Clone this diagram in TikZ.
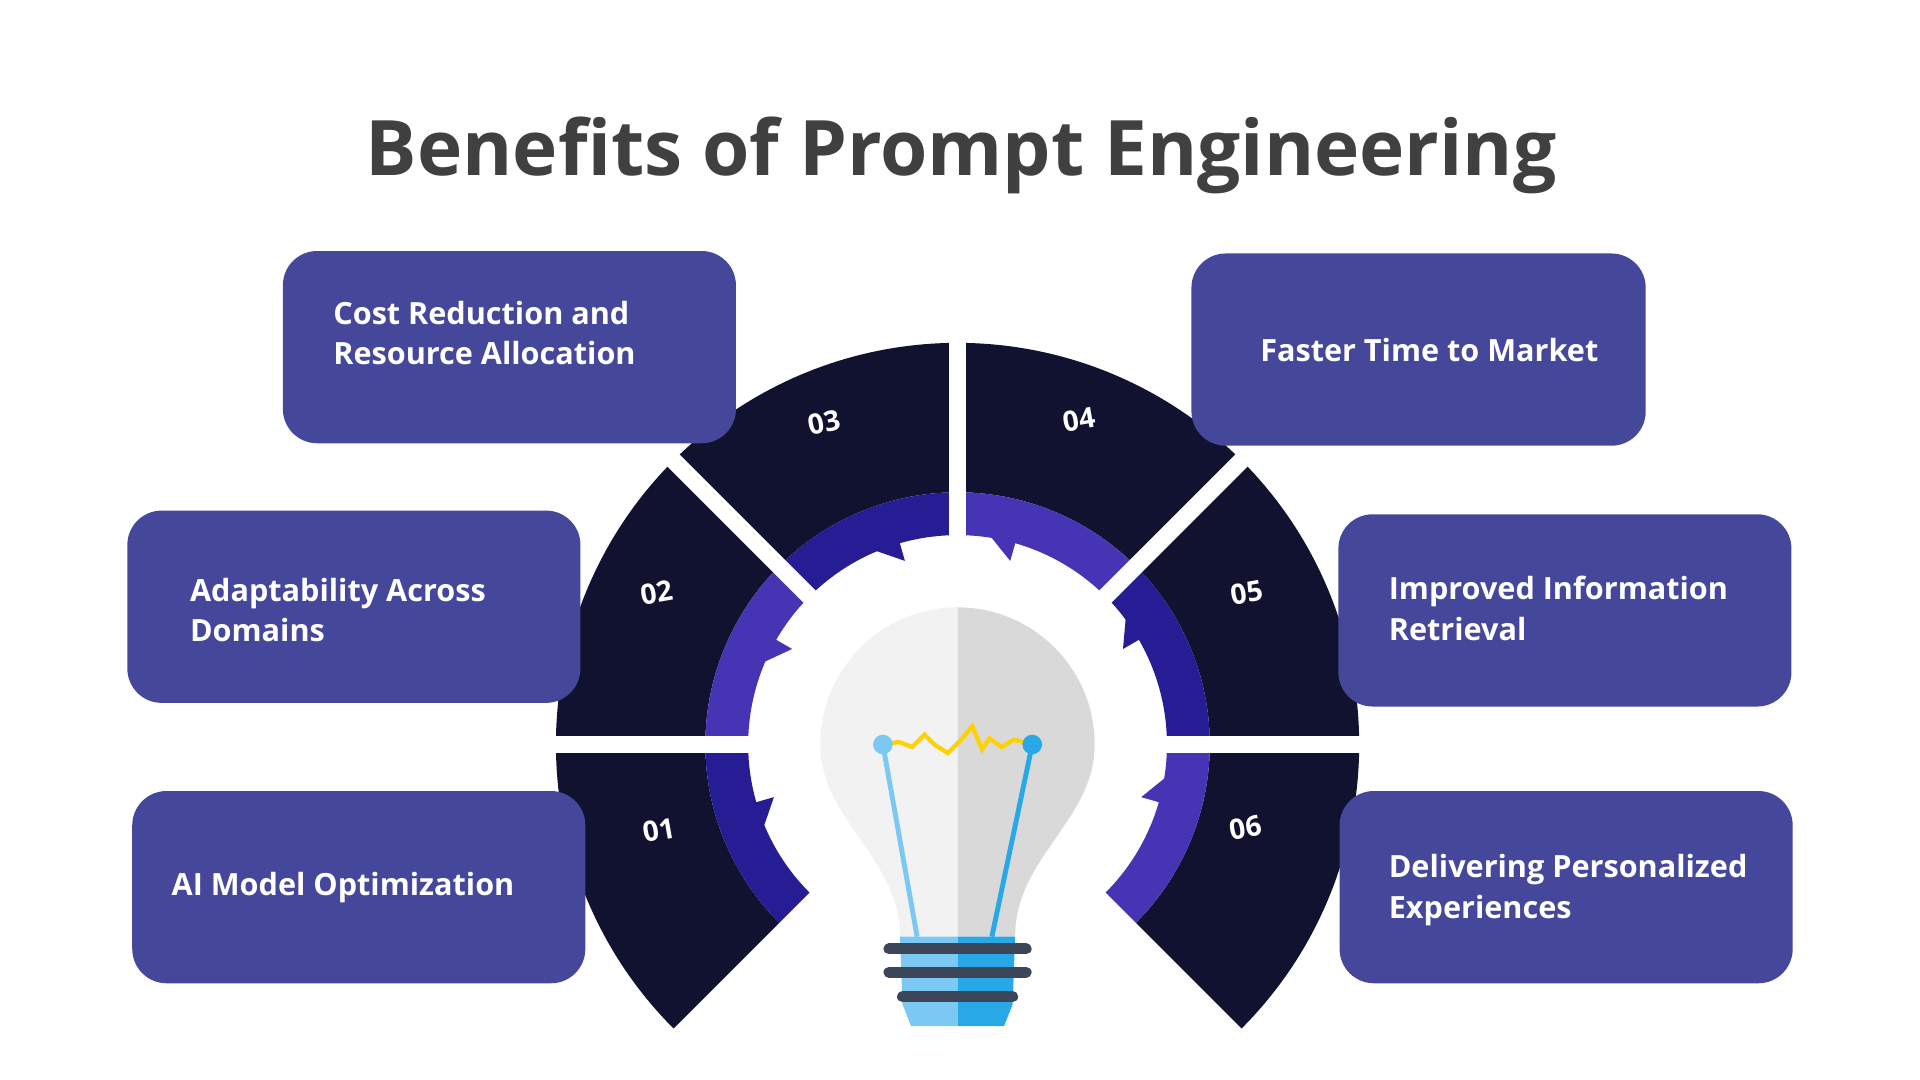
\documentclass[tikz,border=0pt]{standalone}
\usepackage{fontspec}
\setmainfont{Open Sans}
\definecolor{boxc}{HTML}{45479A}
\definecolor{darkseg}{HTML}{11122F}
\definecolor{ringA}{HTML}{261C93}
\definecolor{ringB}{HTML}{4535B5}
\definecolor{titlec}{HTML}{404040}
\definecolor{glassL}{HTML}{F2F2F2}
\definecolor{glassR}{HTML}{D9D9D9}
\definecolor{baseL}{HTML}{7BC8F2}
\definecolor{baseR}{HTML}{29A8E8}
\definecolor{band}{HTML}{3C4659}
\tikzset{
  benefit/.style={fill=boxc, rounded corners=28pt},
  btext/.style={text=white, font=\fontsize{25}{33}\selectfont\bfseries, align=left, anchor=west, inner sep=0pt},
  numtext/.style={text=white, font=\fontsize{23}{26}\selectfont\bfseries},
}
\begin{document}
\begin{tikzpicture}[x=1pt,y=-1pt]
\useasboundingbox[fill=white] (0,0) rectangle (1568,882);
\node[text=titlec, font=\fontsize{62.5}{70}\selectfont\bfseries] (title) at (785,127) {Benefits of Prompt Engineering};
\begin{scope}[shift={(782,608)}, yscale=-1]
  \foreach \a/\b in {180/225,135/180,90/135,45/90,0/45,-45/0}{
    \fill[darkseg] (\a:206) arc[start angle=\a,end angle=\b,radius=206] -- (\b:328) arc[start angle=\b,end angle=\a,radius=328] -- cycle;
  }
  \foreach \a/\b/\c in {180/225/ringA,135/180/ringB,90/135/ringA,45/90/ringB,0/45/ringA,-45/0/ringB}{
    \fill[\c] (\a:171) arc[start angle=\a,end angle=\b,radius=171] -- (\b:206) arc[start angle=\b,end angle=\a,radius=206] -- cycle;
  }
  \foreach \m/\c in {196/ringA,150/ringB,106/ringA,74/ringB,30/ringA,-16/ringB}{
    \fill[\c] (\m:172) -- (\m:156) -- (\m+7:172) -- cycle;
  }
  \foreach \a in {0,45,90,135,180}{
    \draw[white, line width=14pt] (0,0) -- (\a:345);
  }
  \fill[glassL] (0,112) arc[start angle=90,end angle=180,radius=112] .. controls (-112,-62) and (-47,-92) .. (-47,-157) -- (0,-157) -- cycle;
  \fill[glassR] (0,112) arc[start angle=90,end angle=0,radius=112] .. controls (112,-62) and (47,-92) .. (47,-157) -- (0,-157) -- cycle;
  \fill[baseL] (-47,-157) -- (0,-157) -- (0,-230) -- (-38,-230) -- (-45,-212) -- cycle;
  \fill[baseR] (47,-157) -- (0,-157) -- (0,-230) -- (38,-230) -- (45,-212) -- cycle;
  \draw[band, line width=9pt, line cap=round] (-56,-167) -- (56,-167);
  \draw[band, line width=9pt, line cap=round] (-56,-186) -- (56,-186);
  \draw[band, line width=9pt, line cap=round] (-45,-206) -- (45,-206);
  \draw[baseL, line width=4pt] (-61,0) -- (-33,-157);
  \draw[baseR, line width=4pt] (61,0) -- (28,-157);
  \draw[yellow!70!orange, line width=3.5pt, line join=miter] (-61,0) -- (-48,2) -- (-37,-2) -- (-27,8) -- (-19,0) -- (-8,-7) -- (3,4) -- (12,15) -- (20,-4) -- (26,5) -- (36,-2) -- (46,4) -- (61,0);
  \fill[baseL] (-61,0) circle[radius=8];
  \fill[baseR] (61,0) circle[radius=8];
\end{scope}
\node[numtext, rotate=10] (n1) at (538,678) {01};
\node[numtext, rotate=10] (n2) at (536,484) {02};
\node[numtext, rotate=12] (n3) at (673,345) {03};
\node[numtext, rotate=10] (n4) at (881,343) {04};
\node[numtext, rotate=10] (n5) at (1018,484) {05};
\node[numtext, rotate=10] (n6) at (1017,676) {06};
\fill[benefit] (231,205) rectangle (601,362);
\node[btext] (t3) at (272,272) {Cost Reduction and\\Resource Allocation};
\fill[benefit] (104,417) rectangle (474,574);
\node[btext] (t2) at (155,498) {Adaptability Across\\Domains};
\fill[benefit] (108,646) rectangle (478,803);
\node[btext] (t1) at (140,725) {AI Model Optimization};
\fill[benefit] (973,207) rectangle (1344,364);
\node[btext] (t4) at (1029,286) {Faster Time to Market};
\fill[benefit] (1093,420) rectangle (1463,577);
\node[btext] (t5) at (1134,497) {Improved Information\\Retrieval};
\fill[benefit] (1094,646) rectangle (1464,803);
\node[btext] (t6) at (1134,727) {Delivering Personalized\\Experiences};
\end{tikzpicture}
\end{document}
